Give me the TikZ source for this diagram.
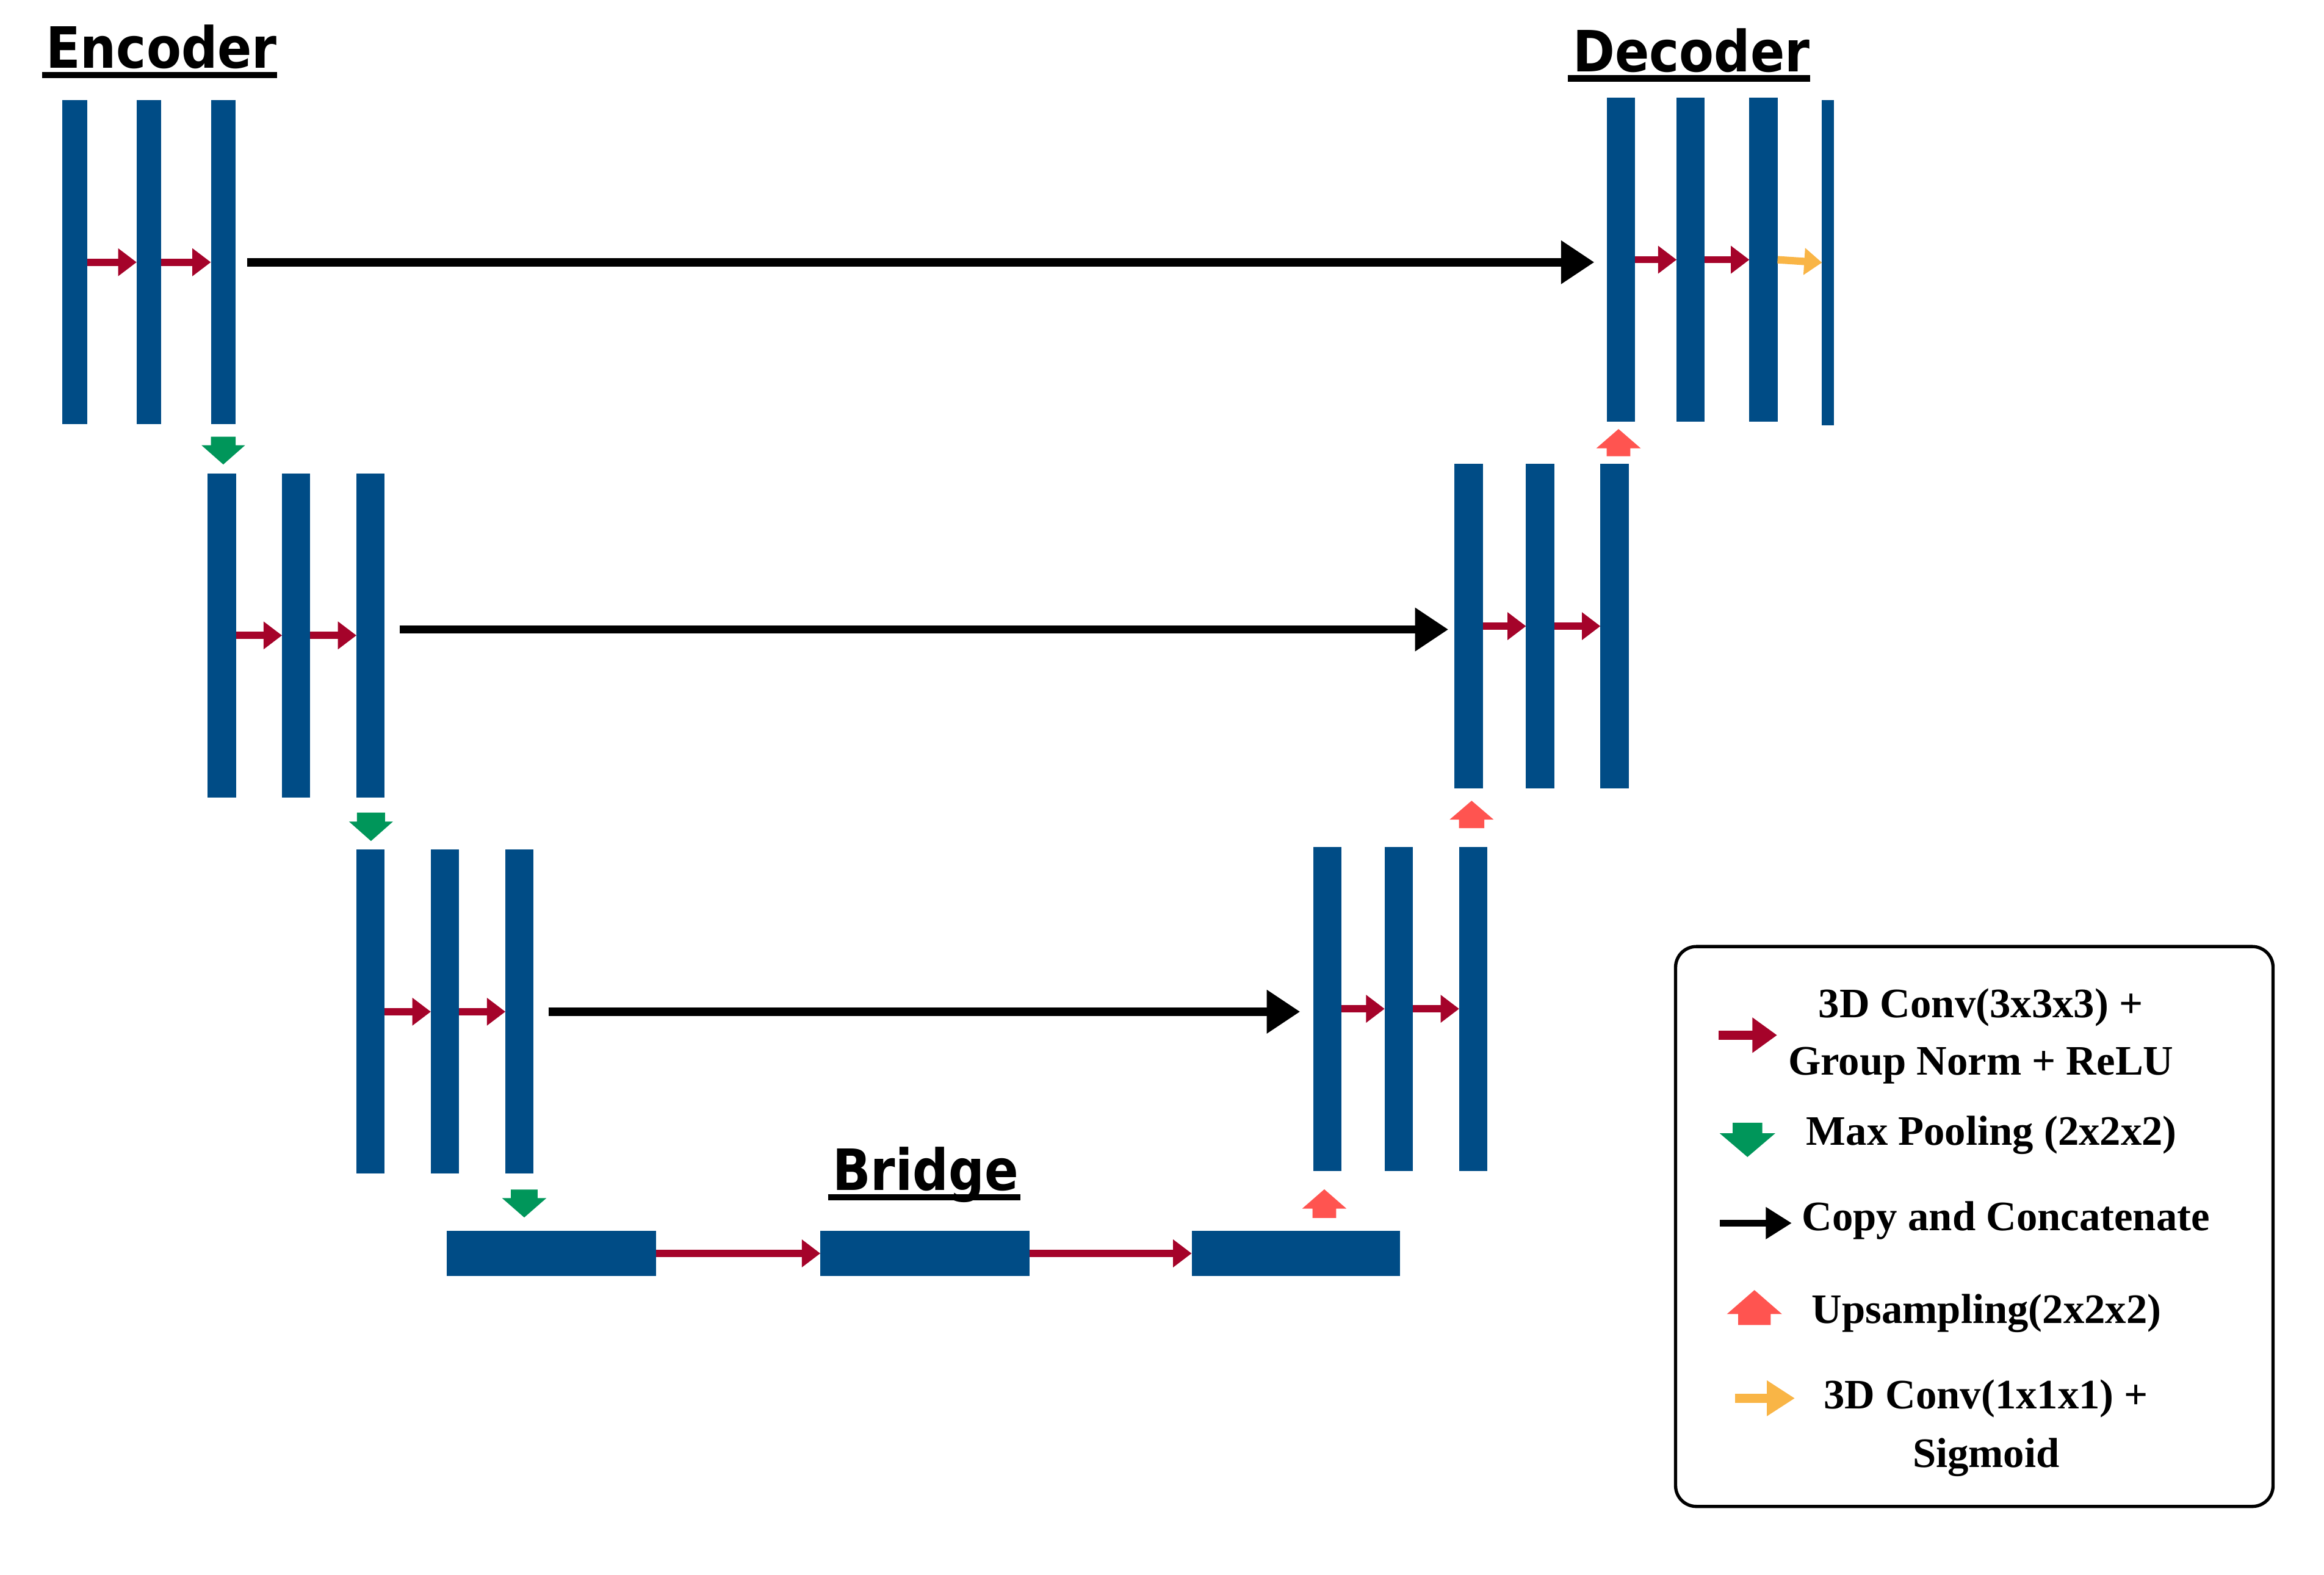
\documentclass[tikz,border=0pt]{standalone}
\usepackage{fontspec}
\setmainfont{Liberation Serif}
\newfontfamily\titlefont{DejaVu Sans}
\usetikzlibrary{arrows.meta,calc}
\definecolor{barblue}{HTML}{004C86}
\definecolor{convred}{HTML}{A5032A}
\definecolor{poolgreen}{HTML}{00965A}
\definecolor{upred}{HTML}{FF5450}
\definecolor{sigyellow}{HTML}{F9B546}
\tikzset{
  x=1pt, y=-1pt,
  bar/.style={draw=none, fill=barblue, inner sep=0pt, outer sep=0pt, anchor=north west,
    minimum width=19pt, minimum height=219pt},
  conv/.style={draw=convred, line width=4.8pt, -{Triangle[length=12.5pt,width=18pt]}},
  sig/.style={draw=sigyellow, line width=5pt, -{Triangle[length=12pt,width=17.5pt]}},
  skip/.style={draw=black, line width=5.7pt, -{Triangle[length=22.5pt,width=28pt]}},
  title/.style={font=\titlefont\bfseries\fontsize{38.4pt}{46pt}\selectfont, inner sep=0pt, anchor=base west},
  uline/.style={line width=4.2pt},
  lt/.style={font=\bfseries\fontsize{28.3pt}{39pt}\selectfont, inner sep=0pt, anchor=base},
  pics/pooldown/.style n args={4}{code={
    \fill[poolgreen] (-#1,0) -- (#1,0) -- (#1,#2) -- (#3,#2) -- (0,#2+#4) -- (-#3,#2) -- (-#1,#2) -- cycle;}},
  pics/upsample/.style n args={4}{code={
    \fill[upred] (0,0) -- (#1,#2) -- (#3,#2) -- (#3,#2+#4) -- (-#3,#2+#4) -- (-#3,#2) -- (-#1,#2) -- cycle;}},
}
\begin{document}
\begin{tikzpicture}
\fill[white] (0,0) rectangle (1568,1062.4);
\useasboundingbox (0,0) rectangle (1568,1062.4);

% titles
\node[title] (enc) at (30.7,45.8) {\scalebox{0.89}[1]{Encoder}};
\draw[uline] ($(enc.base west)+(-2.3,4.8)$) -- ($(enc.base east)+(0,4.8)$);
\node[title] (dec) at (1061,48.3) {\scalebox{0.89}[1]{Decoder}};
\draw[uline] ($(dec.base west)+(-3,4.6)$) -- ($(dec.base east)+(0,4.6)$);
\node[title] (bri) at (561.6,803) {\scalebox{0.88}[1]{Bridge}};
\draw[uline] ($(bri.base west)+(-3,4.8)$) -- ($(bri.base east)+(1,4.8)$);

% encoder level 1
\node[bar, minimum width=16.7pt, minimum height=218.7pt] (e11) at (42,67.6) {};
\node[bar, minimum width=16.7pt, minimum height=218.7pt] (e12) at (92.2,67.6) {};
\node[bar, minimum width=16.7pt, minimum height=218.7pt] (e13) at (142.3,67.6) {};
% encoder level 2
\node[bar, minimum height=218.5pt] (e21) at (140.2,319.5) {};
\node[bar, minimum height=218.5pt] (e22) at (190.3,319.5) {};
\node[bar, minimum height=218.5pt] (e23) at (240.5,319.5) {};
% encoder level 3
\node[bar, minimum height=218.7pt] (e31) at (240.5,573.3) {};
\node[bar, minimum height=218.7pt] (e32) at (290.7,573.3) {};
\node[bar, minimum height=218.7pt] (e33) at (341,573.3) {};
% bridge
\node[bar, minimum width=141.2pt, minimum height=30.5pt] (b1) at (301.6,830.5) {};
\node[bar, minimum width=141.1pt, minimum height=30.5pt] (b2) at (553.5,830.5) {};
\node[bar, minimum width=140.7pt, minimum height=30.5pt] (b3) at (804,830.5) {};
% decoder level 3
\node[bar, minimum height=218.6pt] (d31) at (886,571.4) {};
\node[bar, minimum height=218.6pt] (d32) at (934.2,571.4) {};
\node[bar, minimum height=218.6pt] (d33) at (984.5,571.4) {};
% decoder level 2
\node[bar] (d21) at (981.4,313) {};
\node[bar] (d22) at (1029.6,313) {};
\node[bar] (d23) at (1079.8,313) {};
% decoder level 1
\node[bar, minimum height=218.9pt] (d11) at (1084.3,65.8) {};
\node[bar, minimum height=218.9pt] (d12) at (1131.2,65.8) {};
\node[bar, minimum height=218.9pt] (d13) at (1180.3,65.8) {};
\node[bar, minimum width=8.2pt, minimum height=219.2pt] (out) at (1229.3,67.6) {};

% conv arrows
\draw[conv] (e11.east) -- (e12.west);
\draw[conv] (e12.east) -- (e13.west);
\draw[conv] (e21.east) -- (e22.west);
\draw[conv] (e22.east) -- (e23.west);
\draw[conv] (e31.east) -- (e32.west);
\draw[conv] (e32.east) -- (e33.west);
\draw[conv] (b1.east) -- (b2.west);
\draw[conv] (b2.east) -- (b3.west);
\draw[conv] (d31.east) -- (d32.west);
\draw[conv] (d32.east) -- (d33.west);
\draw[conv] (d21.east) -- (d22.west);
\draw[conv] (d22.east) -- (d23.west);
\draw[conv] (d11.east) -- (d12.west);
\draw[conv] (d12.east) -- (d13.west);
\draw[sig] (d13.east) -- (out.west);

% skip connections
\draw[skip, shorten <=7.7pt, shorten >=8.6pt] (e13.east) -- (e13.east -| d11.west);
\draw[skip, shorten <=10pt, shorten >=4.2pt] ([yshift=4pt]e23.east) -- ([yshift=4pt]e23.east -| d21.west);
\draw[skip, shorten <=10pt, shorten >=8.8pt] (e33.east) -- (e33.east -| d31.west);

% max pooling
\pic at ($(e13.south)+(0,8.4)$) {pooldown={8.35}{5.7}{14.75}{13}};
\pic at ($(e23.south)+(0.3,10.3)$) {pooldown={9.5}{6.1}{14.8}{13.1}};
\pic at ($(e33.south)+(3.2,10.7)$) {pooldown={9}{5.7}{15}{13.1}};

% upsampling
\pic at ($(d31.south)+(-2,12.5)$) {upsample={14.9}{13}{8}{6.3}};
\pic at ($(d21.south)+(2,8.3)$) {upsample={14.8}{12.7}{8.5}{5.8}};
\pic at ($(d11.south)+(-1.8,4.8)$) {upsample={15}{13}{8}{5.3}};

% legend
\node[draw, line width=2.2pt, rounded corners=14pt, inner sep=0pt, anchor=north west,
  minimum width=403.1pt, minimum height=377.8pt] (legend) at (1129.4,637.6) {};
\node[lt] (l1a) at (1336.4,686.6) {3D Conv(3x3x3) +};
\node[lt] (l1b) at (1336.5,725.5) {Group Norm + ReLU};
\node[lt] (l2) at (1343.7,772.8) {Max Pooling (2x2x2)};
\node[lt] (l3) at (1353.4,830.5) {Copy and Concatenate};
\node[lt] (l4) at (1340.3,892.8) {Upsampling(2x2x2)};
\node[lt] (l5a) at (1340,950.5) {3D Conv(1x1x1) +};
\node[lt] (l5b) at (1340,990) {Sigmoid};

\coordinate (k1s) at (1159.5,698.5);
\coordinate (k1e) at (1199,698.5);
\draw[conv, line width=6pt, -{Triangle[length=16.7pt,width=22.8pt]}] (k1s) -- (k1e);
\pic at (1179,757.6) {pooldown={10}{7.1}{18.75}{16}};
\coordinate (k3s) at (1160.3,825.3);
\coordinate (k3e) at (1208.9,825.3);
\draw[skip, line width=4.7pt, -{Triangle[length=17.5pt,width=20.5pt]}] (k3s) -- (k3e);
\pic at (1183.7,870.5) {upsample={18.6}{16.2}{11}{7.4}};
\coordinate (k5s) at (1170.6,943.5);
\coordinate (k5e) at (1211,943.5);
\draw[sig, line width=6pt, -{Triangle[length=18.9pt,width=22.8pt]}] (k5s) -- (k5e);
\end{tikzpicture}
\end{document}
